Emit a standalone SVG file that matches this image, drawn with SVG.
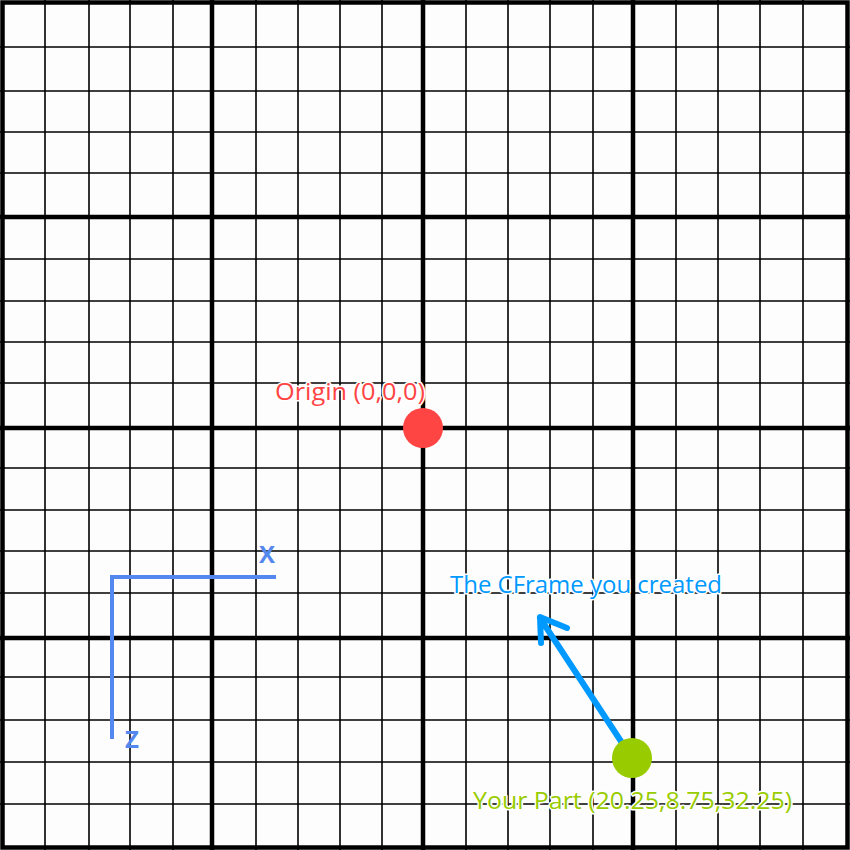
<svg xmlns="http://www.w3.org/2000/svg" width="850" height="850" viewBox="0 0 850 850">
<style>
.fine{stroke:#000;stroke-width:1.6;fill:none}
.thick{stroke:#000;stroke-width:4.5;fill:none}
.lbl{font-family:"Open Sans","Noto Sans",sans-serif;font-size:24px;stroke:#fff;stroke-width:3;paint-order:stroke;stroke-linejoin:round}
.axis{stroke:#5588EE;stroke-width:4;fill:none}
.axl{font-family:"Open Sans","DejaVu Sans",sans-serif;font-size:24px;font-weight:bold;fill:#5588EE}
</style>
<rect x="0" y="0" width="850" height="850" fill="#fdfdfd"/>
<g id="grid">
<path class="fine" d="M45 0V850M89 0V850M130 0V850M173 0V850M256 0V850M298 0V850M340 0V850M382 0V850M466 0V850M508 0V850M550 0V850M593 0V850M676 0V850M718 0V850M760 0V850M803 0V850"/>
<path class="fine" d="M0 47H850M0 91H850M0 132H850M0 173H850M0 259H850M0 301H850M0 342H850M0 383H850M0 468H850M0 510H850M0 551H850M0 593H850M0 677H850M0 720H850M0 762H850M0 804H850"/>
<path class="thick" d="M212 0V850M423 0V850M633 0V850M0 217H850M0 428H850M0 638H850"/>
<rect x="2.5" y="2.5" width="845" height="845" class="thick"/>
</g>
<g id="axes">
<path class="axis" d="M276 577H112V739"/>
<text class="axl" x="259" y="563">X</text>
<text class="axl" x="125" y="748">Z</text>
</g>
<g id="connectors">
<path d="M630 755L540 618M567 628L540 617L541 643" stroke="#0099FF" stroke-width="6" fill="none" stroke-linecap="round" stroke-linejoin="round"/>
</g>
<g id="origin">
<circle cx="423" cy="428" r="20" fill="#FF4444"/>
<text class="lbl" x="275" y="400" fill="#FF4444" textLength="150" lengthAdjust="spacingAndGlyphs">Origin (0,0,0)</text>
</g>
<g id="part">
<circle cx="632" cy="758" r="20" fill="#99CC00"/>
<text class="lbl" x="473" y="809" fill="#99CC00" textLength="319" lengthAdjust="spacingAndGlyphs">Your Part (20.25,8.75,32.25)</text>
</g>
<g id="cframe">
<text class="lbl" x="450" y="593" fill="#0099FF" textLength="272" lengthAdjust="spacingAndGlyphs">The CFrame you created</text>
</g>
</svg>
